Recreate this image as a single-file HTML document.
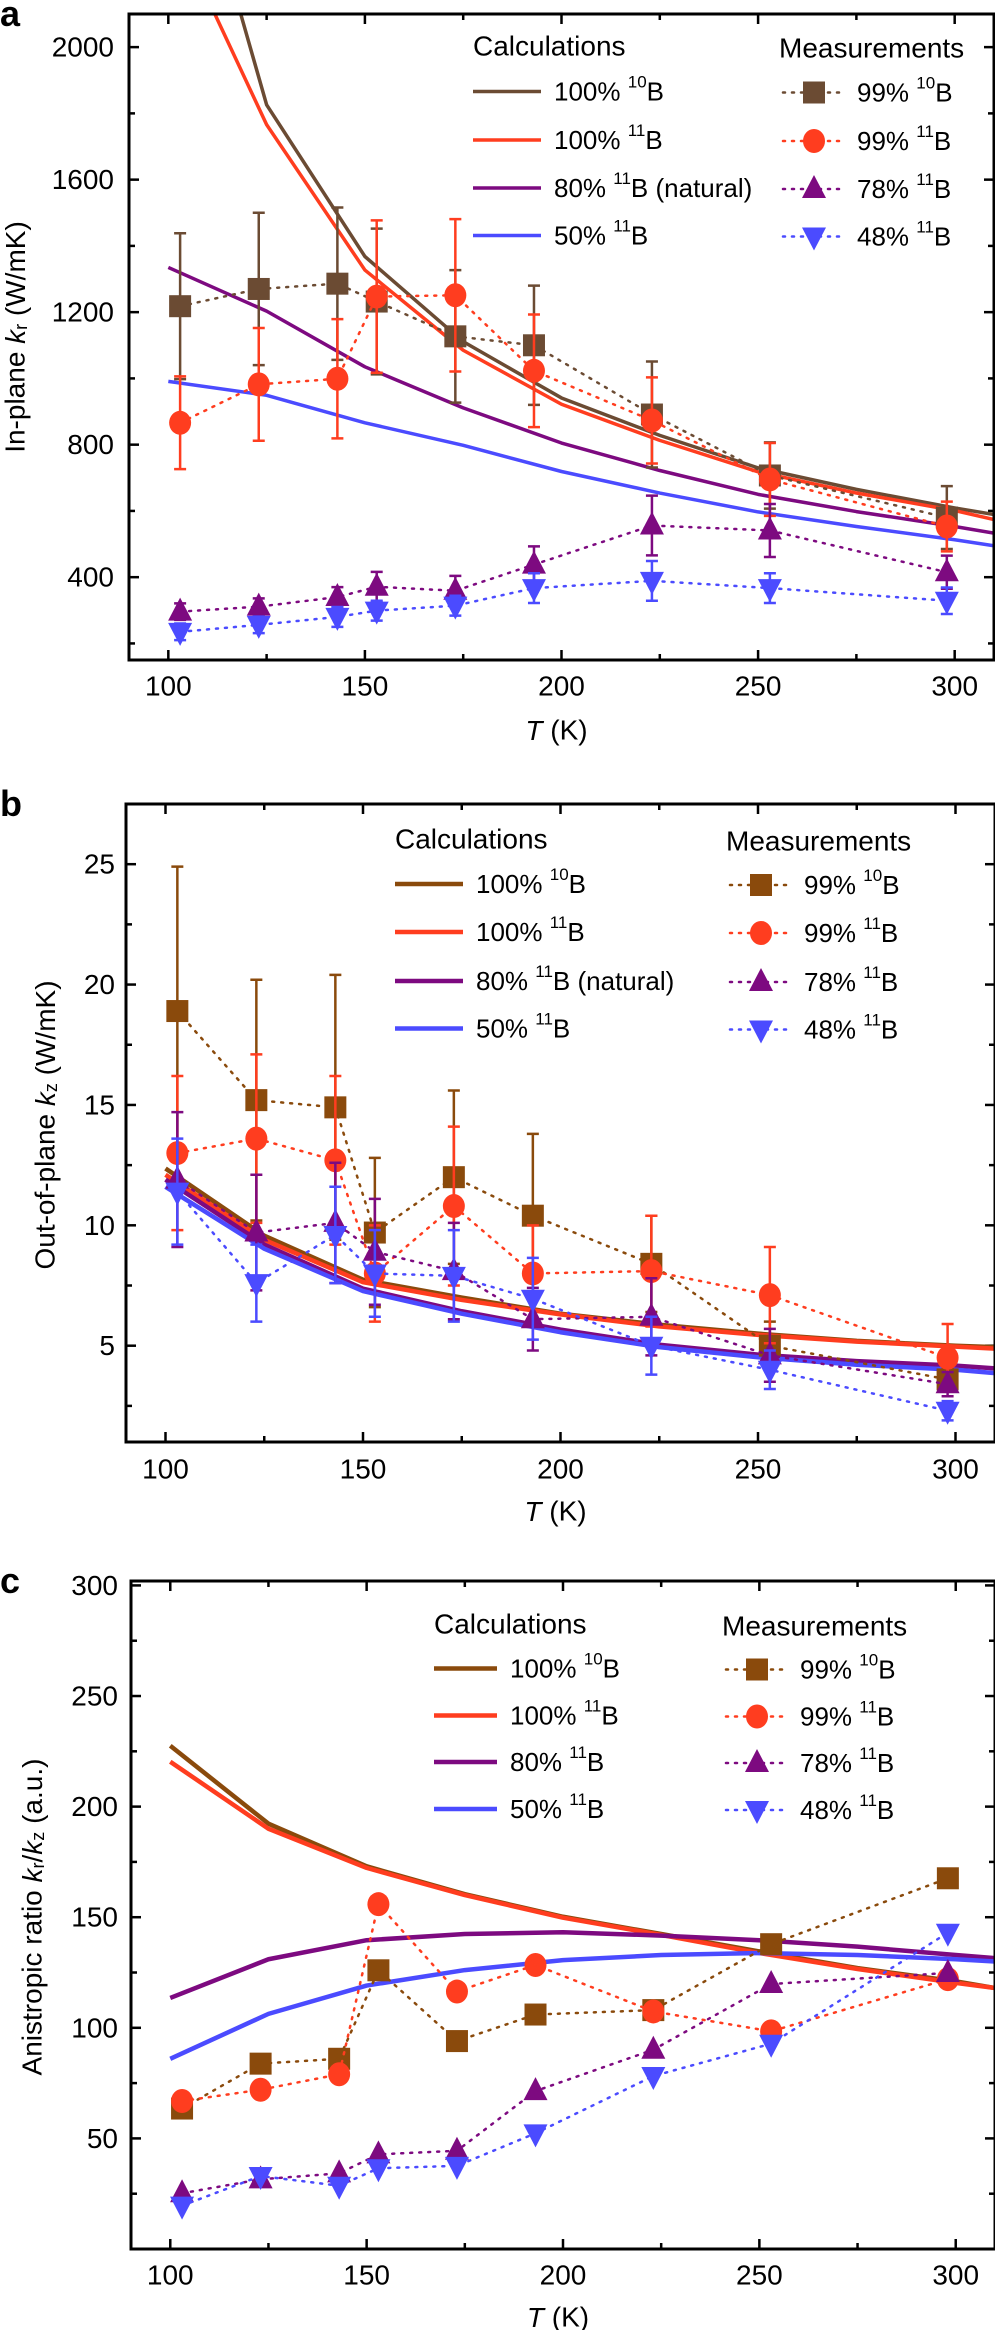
<!DOCTYPE html>
<html><head><meta charset="utf-8">
<style>
html,body{margin:0;padding:0;background:#fff;}
svg{display:block;font-family:"Liberation Sans",Arial,sans-serif;}
</style></head>
<body>
<svg id="fig" width="995" height="2330" viewBox="0 0 995 2330" xmlns="http://www.w3.org/2000/svg"></svg>
<script>
// ---------- shared ----------
const measT = [103,123,143,153,173,193,223,253,298];
const calcT = [100,125,150,175,200,225,250,275,300,310];
const calcT10a = [110,125,150,175,200,225,250,275,300,310];
const xTicks = [100,150,200,250,300];

// ---------- panel a ----------
const aCalc10B = [2450,1826,1368,1111,941,828,730,665,609,589];
const aCalc11B = [2400,1766,1327,1085,922,813,718,654,601,574];
const aCalcNat = [1335,1203,1035,911,805,722,650,598,553,533];
const aCalc50 = [991,949,866,798,719,654,597,553,513,495];
const aMeas10B = [1218,1270,1286,1232,1127,1100,891,707,580];
const aErr10B = [220,230,230,220,200,180,160,100,95];
const aMeas11B = [866,982,999,1247,1251,1023,873,695,553];
const aErr11B = [140,170,180,230,230,170,130,110,75];
const aMeas78 = [296,311,340,371,359,438,556,541,415];
const aErr78 = [25,25,30,45,45,55,90,80,50];
const aMeas48 = [235,256,280,299,314,367,389,367,329];
const aErr48 = [25,25,30,30,30,45,60,45,40];
const aYTicks = [400,800,1200,1600,2000];

// ---------- panel b ----------
const bCalc10B = [12.36,9.57,7.74,7.0,6.33,5.87,5.5,5.2,5.0,4.94];
const bCalc11B = [12.1,9.4,7.64,6.9,6.3,5.8,5.45,5.17,4.96,4.88];
const bCalcNat = [11.9,9.2,7.37,6.43,5.67,5.04,4.63,4.36,4.17,4.06];
const bCalc50 = [11.6,9.03,7.27,6.33,5.56,4.94,4.52,4.21,4.0,3.86];
const bMeas10B = [18.9,15.2,14.9,9.7,12.0,10.4,8.4,5.0,3.6];
const bErr10B = [6.0,5.0,5.5,3.1,3.6,3.4,2.0,1.0,0.5];
const bMeas11B = [13.0,13.6,12.7,8.0,10.8,8.0,8.1,7.1,4.5];
const bErr11B = [3.2,3.5,3.5,2.0,3.3,2.0,2.3,2.0,1.4];
const bMeas78 = [11.9,9.7,10.1,8.9,8.1,6.1,6.2,4.6,3.4];
const bErr78 = [2.8,2.4,2.5,2.2,2.0,1.3,1.6,1.1,0.5];
const bMeas48 = [11.4,7.6,9.6,8.0,7.9,6.95,5.0,4.0,2.3];
const bErr48 = [2.2,1.6,2.0,1.8,1.9,1.7,1.2,0.8,0.4];
const bYTicks = [5,10,15,20,25];

// ---------- panel c ----------
const cCalc10B = [227.5,192.3,173,160.4,150.2,142.4,134.5,127,121,118];
const cCalc11B = [220.3,190,172.3,160,149.8,142,133.8,126.6,120.3,118];
const cCalcNat = [113.5,131,139.6,142.4,143.2,141.7,139.6,136.7,132.9,131.5];
const cCalc50 = [86,106.3,119.1,126.1,130.6,132.9,133.8,132.9,131,130];
const cMeas10B = [63.5,83.8,86,126,94,106,108,137.8,167.6];
const cMeas11B = [66.9,72,79,155.9,116.4,128.4,107.4,98.4,122];
const cMeas78 = [25.2,31.5,34.2,42.8,44.4,71.4,90.1,119.8,124.8];
const cMeas48 = [19.6,33,28.6,36.5,37.6,52.3,78.2,92.8,143];
const cYTicks = [50,100,150,200,250,300];

const NS = "http://www.w3.org/2000/svg";
const fig = document.getElementById('fig');
function mk(tag, attrs, parent){
  const e = document.createElementNS(NS, tag);
  for (const k in attrs) e.setAttribute(k, attrs[k]);
  (parent||fig).appendChild(e);
  return e;
}
const RED='#ff3d1f', PUR='#7d0a80', BLU='#4b4bff';

function marker(g, shape, cx, cy, col){
  let m;
  if(shape==='s') m = mk('rect',{x:cx-11,y:cy-11,width:22,height:22,fill:col},g);
  else if(shape==='o') m = mk('ellipse',{cx:cx,cy:cy,rx:11,ry:12,fill:col},g);
  else if(shape==='^') m = mk('polygon',{points:`${cx},${cy-14} ${cx-12},${cy+9} ${cx+12},${cy+9}`,fill:col},g);
  else m = mk('polygon',{points:`${cx},${cy+14} ${cx-12},${cy-9} ${cx+12},${cy-9}`,fill:col},g);
  return m;
}

function drawPanel(p){
  const g = mk('g',{});
  
  
  const X = t => p.L + (t-90)/(310-90)*(p.R-p.L);
  const Y = v => p.B - (v-p.ymin)/(p.ymax-p.ymin)*(p.B-p.T);
  // clip
  const cid = p.name+'-clip';
  const cp = mk('clipPath',{id:cid},g);
  mk('rect',{x:p.L,y:p.T,width:p.R-p.L,height:p.B-p.T},cp);
  // panel letter
  const letter = mk('text',{x:0,y:p.T+12,'font-size':36,'font-weight':'bold'},g);
  letter.textContent = p.letter;
  
  
  // ticks
  for(let t=100;t<=300;t+=25){
    const len = (t%50===0)?10:6;
    mk('line',{x1:X(t),x2:X(t),y1:p.B,y2:p.B-len,stroke:'#000','stroke-width':2.5},g);
    mk('line',{x1:X(t),x2:X(t),y1:p.T,y2:p.T+len,stroke:'#000','stroke-width':2.5},g);
  }
  xTicks.forEach(t=>{
    const tx = mk('text',{x:X(t),y:p.xlabY,'font-size':28,'text-anchor':'middle','dominant-baseline':'central'},g);
    tx.textContent = t;
    
    
  });
  for(let v=p.minorStart; v<=p.ymax; v+=p.minorStep){
    if(Y(v)<p.T+2||Y(v)>p.B-2) continue;
    const major = p.yTicks.some(q=>Math.abs(q-v)<1e-6);
    const len = major?10:6;
    mk('line',{x1:p.L,x2:p.L+len,y1:Y(v),y2:Y(v),stroke:'#000','stroke-width':2.5},g);
    mk('line',{x1:p.R,x2:p.R-len,y1:Y(v),y2:Y(v),stroke:'#000','stroke-width':2.5},g);
  }
  p.yTicks.forEach(v=>{
    const ty = mk('text',{x:p.ylabX,y:Y(v),'font-size':28,'text-anchor':'end','dominant-baseline':'central'},g);
    ty.textContent = v;
    
    
  });
  // axis titles
  const xt = mk('text',{x:(p.L+p.R)/2-5,y:p.xtitleY,'font-size':28,'text-anchor':'middle','dominant-baseline':'central'},g);
  xt.innerHTML = '<tspan font-style="italic">T</tspan> (K)';
  
  
  const yt = mk('text',{x:0,y:0,'font-size':28,'text-anchor':'middle','dominant-baseline':'central',transform:`translate(${p.ytitleX},${p.ytitleY}) rotate(-90)`},g);
  yt.innerHTML = p.ytitle;
  
  

  const dg = mk('g',{'clip-path':`url(#${cid})`},g);
  // calc lines
  p.calc.forEach(s=>{
    const pts = s.vals.map((v,i)=>X(s.T[i])+','+Y(v)).join(' ');
    const l = mk('polyline',{points:pts,fill:'none',stroke:s.col,'stroke-width':p.lw,'stroke-linejoin':'round'},dg);
    
    
  });
  // measurements
  p.meas.forEach(s=>{
    const pts = s.vals.map((v,i)=>X(measT[i])+','+Y(v)).join(' ');
    const l = mk('polyline',{points:pts,fill:'none',stroke:s.col,'stroke-width':2.5,'stroke-dasharray':'2 7','stroke-linecap':'round'},dg);
    
    
    if(s.err){
      s.vals.forEach((v,i)=>{
        const x = X(measT[i]), y1 = Y(v+s.err[i]), y2 = Y(v-s.err[i]);
        const eb = mk('path',{d:`M${x},${y1}V${y2}M${x-6},${y1}H${x+6}M${x-6},${y2}H${x+6}`,stroke:s.col,'stroke-width':2.5,fill:'none'},dg);
        
        
      });
    }
    s.vals.forEach((v,i)=>{
      const m = marker(dg, s.shape, X(measT[i]), Y(v), s.col);
      
      
    });
  });
  // frame
  mk('rect',{x:p.L,y:p.T,width:p.R-p.L,height:p.B-p.T,fill:'none',stroke:'#000','stroke-width':3},g);

  // legend
  const lg = p.leg;
  const ct = mk('text',{x:lg.cx,y:lg.titleY,'font-size':28,'dominant-baseline':'central'},g);
  ct.textContent = 'Calculations';
  
  
  const mt = mk('text',{x:lg.mx,y:lg.titleY+2,'font-size':28,'dominant-baseline':'central'},g);
  mt.textContent = 'Measurements';
  
  
  p.calc.forEach((s,i)=>{
    const y = lg.rows[i];
    mk('line',{x1:lg.cx,x2:lg.cx+lg.lineLen,y1:y,y2:y,stroke:s.col,'stroke-width':p.lw},g);
    const t = mk('text',{x:lg.cx+lg.lineLen+13,y:y,'font-size':26,'dominant-baseline':'central'},g);
    t.innerHTML = s.label;
    
    
  });
  p.meas.forEach((s,i)=>{
    const y = lg.rows[i]+1;
    mk('line',{x1:lg.mx+4,x2:lg.mx+66,y1:y,y2:y,stroke:s.col,'stroke-width':2.5,'stroke-dasharray':'2 7','stroke-linecap':'round'},g);
    marker(g, s.shape, lg.mx+35, y, s.col);
    const t = mk('text',{x:lg.mx+78,y:y,'font-size':26,'dominant-baseline':'central'},g);
    t.innerHTML = s.label;
    
    
  });
}
const sup = n => `<tspan dy="-10" font-size="17">${n}</tspan><tspan dy="10">B</tspan>`;
const kr = '<tspan font-style="italic">k</tspan><tspan dy="6" font-size="18">r</tspan><tspan dy="-6">';
const kz = '<tspan font-style="italic">k</tspan><tspan dy="6" font-size="18">z</tspan><tspan dy="-6">';

function build(letter, name, box, ymin, ymax, yTicks, minorStart, minorStep, calcVals, measVals, errs, col10, natLabel, ytitle, leg, lw){
  const calcLabels = ['100% '+sup(10),'100% '+sup(11),'80% '+sup(11)+natLabel,'50% '+sup(11)];
  const calcCols = [col10,RED,PUR,BLU];
  const calcIds = ['calc-10b','calc-11b','calc-80pct','calc-50pct'];
  const measLabels = ['99% '+sup(10),'99% '+sup(11),'78% '+sup(11),'48% '+sup(11)];
  const shapes = ['s','o','^','v'];
  const measIds = ['meas-99pct-10b','meas-99pct-11b','meas-78pct','meas-48pct'];
  drawPanel(Object.assign({letter, name, ymin, ymax, yTicks, minorStart, minorStep, ytitle, leg, lw,
    calc: calcVals.map((v,i)=>({vals:v, T:(i===0&&letter==='a')?calcT10a:calcT, col:calcCols[i], label:calcLabels[i], id:calcIds[i]})),
    meas: measVals.map((v,i)=>({vals:v, err:errs?errs[i]:null, col:calcCols[i], shape:shapes[i], label:measLabels[i], id:measIds[i]}))
  }, box));
}

build('a','panel-a-in-plane',
  {L:129,R:994,T:14,B:660,xlabY:686,xtitleY:730,ylabX:114,ytitleX:15,ytitleY:337},
  150,2100,aYTicks,200,200,
  [aCalc10B,aCalc11B,aCalcNat,aCalc50],[aMeas10B,aMeas11B,aMeas78,aMeas48],[aErr10B,aErr11B,aErr78,aErr48],
  '#6b4b33',' (natural)','In-plane '+kr+' (W/mK)</tspan>',
  {cx:473,mx:779,titleY:46,lineLen:68,rows:[91.5,140,188,235.5]},3.5);

build('b','panel-b-out-of-plane',
  {L:126,R:995,T:804,B:1442,xlabY:1469,xtitleY:1511,ylabX:115,ytitleX:45,ytitleY:1125},
  1,27.5,bYTicks,2.5,2.5,
  [bCalc10B,bCalc11B,bCalcNat,bCalc50],[bMeas10B,bMeas11B,bMeas78,bMeas48],[bErr10B,bErr11B,bErr78,bErr48],
  '#8a4a0c',' (natural)','Out-of-plane '+kz+' (W/mK)</tspan>',
  {cx:395,mx:726,titleY:839,lineLen:68,rows:[884,932,981,1028.5]},4.5);

build('c','panel-c-anisotropic-ratio',
  {L:131,R:995,T:1581,B:2249,xlabY:2275,xtitleY:2317,ylabX:118,ytitleX:32,ytitleY:1917},
  0,302,cYTicks,25,25,
  [cCalc10B,cCalc11B,cCalcNat,cCalc50],[cMeas10B,cMeas11B,cMeas78,cMeas48],null,
  '#8a4a0c','','Anistropic ratio '+kr+'/</tspan>'+kz+' (a.u.)</tspan>',
  {cx:434,mx:722,titleY:1624,lineLen:63,rows:[1668.5,1715.5,1762,1809]},4.5);
</script>
</body></html>
